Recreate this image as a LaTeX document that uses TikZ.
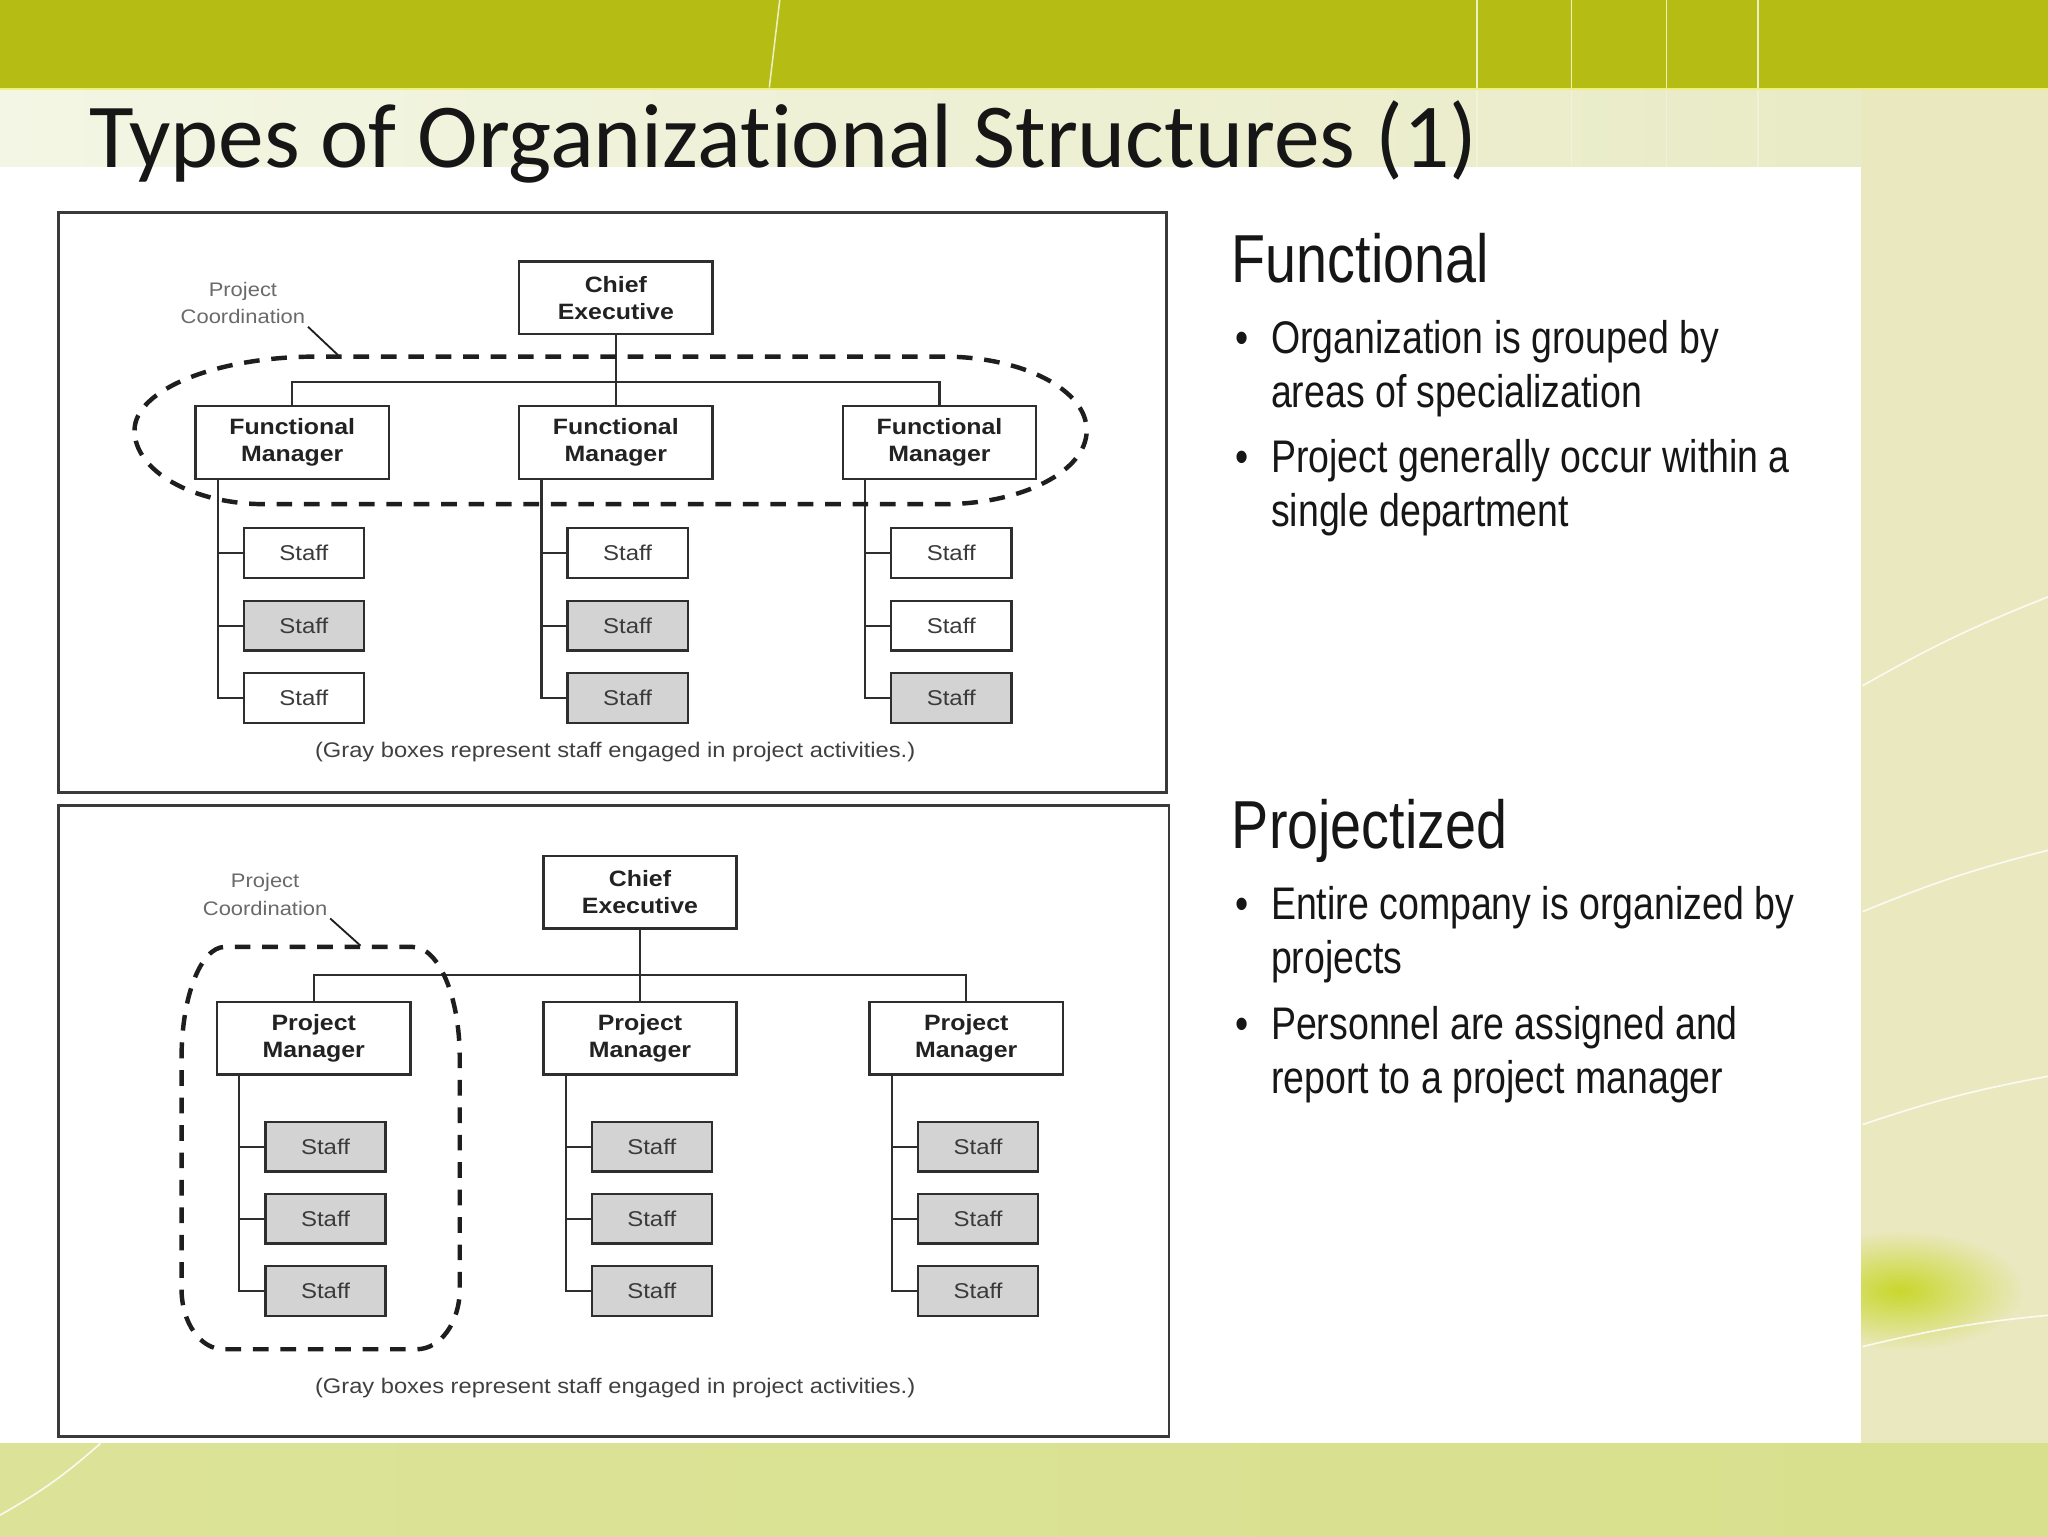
\documentclass[tikz,border=0pt]{standalone}
\usepackage{fontspec}
\setmainfont{Liberation Sans}
\newfontfamily\titlefont{Carlito}[Ligatures=NoCommon]
\newfontfamily\narrowfont{Liberation Sans}[FakeStretch=0.82]
\newfontfamily\chartfont{Liberation Sans}[FakeStretch=1.12]
\usetikzlibrary{positioning, calc}

\definecolor{bandgreen}{HTML}{B5BC13}
\definecolor{bandlight}{HTML}{EEF27A}
\definecolor{titleleft}{HTML}{F3F6E4}
\definecolor{titleright}{HTML}{E9EBC6}
\definecolor{margin}{HTML}{E9E8BF}
\definecolor{floorgreen}{HTML}{D8E08D}
\definecolor{blobgreen}{HTML}{C9D72C}
\definecolor{ink}{HTML}{161616}
\definecolor{boxline}{HTML}{2E2E2E}
\definecolor{boxtext}{HTML}{222222}
\definecolor{stafftext}{HTML}{3A3A3A}
\definecolor{busygray}{HTML}{D3D3D3}
\definecolor{dashink}{HTML}{1E1E1E}
\definecolor{notegray}{HTML}{6A6A6A}
\definecolor{capgray}{HTML}{404040}
\definecolor{framegray}{HTML}{3A3A3A}

\begin{document}
\begin{tikzpicture}[
  x=1pt, y=1pt,
  mgr/.style={draw=boxline, line width=1.8pt, fill=white, minimum width=148pt, minimum height=55.5pt, inner sep=0pt, align=center, text=boxtext, font=\chartfont\bfseries\fontsize{17}{20.5}\selectfont},
  staff/.style={draw=boxline, line width=1.8pt, fill=white, minimum width=92pt, minimum height=38pt, inner sep=0pt, text=stafftext, font=\chartfont\fontsize{16.4}{19}\selectfont},
  busy/.style={staff, fill=busygray},
  link/.style={draw=boxline, line width=1.6pt},
  coord/.style={draw=dashink, line width=3.4pt, dash pattern=on 12pt off 9pt},
  leader/.style={draw=dashink, line width=1.4pt},
  note/.style={align=center, inner sep=2pt, text=notegray, font=\chartfont\fontsize{15}{21}\selectfont},
  caption/.style={inner sep=0pt, text=capgray, font=\chartfont\fontsize{16.2}{19}\selectfont},
  frame/.style={draw=framegray, line width=2.2pt},
  head/.style={anchor=base west, inner sep=0pt, text=ink, font=\narrowfont\fontsize{52}{60}\selectfont},
  point/.style={anchor=base west, inner sep=0pt, text=ink, font=\narrowfont\fontsize{35}{42}\selectfont}
]
\useasboundingbox (0,0) rectangle (1568,-1176);

% slide background
\fill[margin] (0,0) rectangle (1568,-1176);
\shade[inner color=blobgreen, outer color=margin] (1455,-988) ellipse [x radius=95pt, y radius=46pt];
\shade[left color=floorgreen!90!white, right color=floorgreen] (0,-1105) rectangle (1568,-1176);
\fill[bandgreen] (0,0) rectangle (1568,-68);
\draw[bandlight, line width=2pt] (0,-68) -- (1568,-68);
\shade[left color=titleleft, right color=titleright] (0,-69) rectangle (1425,-128);
\foreach \lx in {1131,1203,1276,1346} {
  \draw[white, line width=1.2pt, opacity=.75] (\lx,0) -- (\lx,-67);
  \draw[white, line width=1.2pt, opacity=.3] (\lx,-69) -- (\lx,-128);
}
\draw[white, line width=1.2pt, opacity=.75] (597,0) -- (589,-67);
\fill[white] (0,-128) rectangle (1425,-1105);
\foreach \ya/\yb in {525/457, 698/651, 861/824, 1031/1007}
  \draw[white, line width=1.3pt, opacity=.8] (1426,-\ya) to[bend left=4] (1568,-\yb);
\draw[white, line width=1.3pt, opacity=.8] (77,-1105) to[bend left=6] (0,-1160);

% title
\node[anchor=base west, inner sep=0pt, text=ink, font=\titlefont\fontsize{70}{82}\selectfont] (title) at (68,-128) {Types of Organizational Structures (1)};

% functional chart
\draw[frame] (45,-163) rectangle (893,-607);
\node[mgr] (ce1) at (471.5,-228) {Chief\\Executive};
\node[mgr, below=53.5pt of ce1] (fm2) {Functional\\Manager};
\node[mgr, left=98pt of fm2] (fm1) {Functional\\Manager};
\node[mgr, right=98pt of fm2] (fm3) {Functional\\Manager};
\coordinate (bar1) at ($(fm2.north)+(0,18)$);
\draw[link] (ce1) -- (fm2);
\draw[link] (fm1.north) |- (bar1) -| (fm3.north);
\foreach \m/\sa/\sb/\sc in {1/staff/busy/staff, 2/staff/busy/busy, 3/staff/staff/busy} {
  \node[\sa] (fs\m-a) at ($(fm\m.south)+(9,-56)$) {Staff};
  \node[\sb] (fs\m-b) at ($(fm\m.south)+(9,-111.5)$) {Staff};
  \node[\sc] (fs\m-c) at ($(fm\m.south)+(9,-167)$) {Staff};
  \foreach \r in {a,b,c}
    \draw[link] ([xshift=18pt]fm\m.south west) |- (fs\m-\r.west);
}
\draw[coord] (103,-329.5) arc[start angle=180, end angle=90, x radius=140pt, y radius=56.5pt]
  -- (722,-273) arc[start angle=90, end angle=0, x radius=110pt, y radius=56.5pt]
  arc[start angle=0, end angle=-90, x radius=110pt, y radius=56.5pt]
  -- (203,-386) arc[start angle=-90, end angle=-180, x radius=100pt, y radius=56.5pt];
\node[note] (pc1) at (186,-232) {Project\\Coordination};
\coordinate (tip1) at (260,-273);
\draw[leader] (pc1.south east) -- (tip1);
\node[caption] (cap1) at (471,-576) {(Gray boxes represent staff engaged in project activities.)};

% projectized chart
\draw[frame] (45,-617) rectangle (895,-1100);
\node[mgr] (ce2) at (490,-683) {Chief\\Executive};
\node[mgr, below=54.5pt of ce2] (pm2) {Project\\Manager};
\node[mgr, left=100pt of pm2] (pm1) {Project\\Manager};
\node[mgr, right=100pt of pm2] (pm3) {Project\\Manager};
\coordinate (bar2) at ($(pm2.north)+(0,20)$);
\draw[link] (ce2) -- (pm2);
\draw[link] (pm1.north) |- (bar2) -| (pm3.north);
\foreach \m in {1,2,3} {
  \node[busy] (ps\m-a) at ($(pm\m.south)+(9,-54.5)$) {Staff};
  \node[busy] (ps\m-b) at ($(pm\m.south)+(9,-109.5)$) {Staff};
  \node[busy] (ps\m-c) at ($(pm\m.south)+(9,-165)$) {Staff};
  \foreach \r in {a,b,c}
    \draw[link] ([xshift=18pt]pm\m.south west) |- (ps\m-\r.west);
}
\draw[coord] (139,-810) arc[start angle=180, end angle=90, x radius=33pt, y radius=85pt]
  -- (316,-725) arc[start angle=90, end angle=0, x radius=36pt, y radius=85pt]
  -- (352,-987) arc[start angle=0, end angle=-90, x radius=33pt, y radius=46pt]
  -- (171,-1033) arc[start angle=-90, end angle=-180, x radius=32pt, y radius=46pt] -- cycle;
\node[note] (pc2) at (203,-685) {Project\\Coordination};
\coordinate (tip2) at (276,-724);
\draw[leader] (pc2.south east) -- (tip2);
\node[caption] (cap2) at (471,-1063) {(Gray boxes represent staff engaged in project activities.)};

% right-hand text
\node[head] (h1) at (943,-216) {Functional};
\node[point] (b1) at (946,-271) {•};
\node[point] (t1) at (973,-271) {Organization is grouped by};
\node[point] (t2) at (973,-312) {areas of specialization};
\node[point] (b2) at (946,-362) {•};
\node[point] (t3) at (973,-362) {Project generally occur within a};
\node[point] (t4) at (973,-403) {single department};
\node[head] (h2) at (943,-650) {Projectized};
\node[point] (b3) at (946,-704) {•};
\node[point] (t5) at (973,-704) {Entire company is organized by};
\node[point] (t6) at (973,-745) {projects};
\node[point] (b4) at (946,-796) {•};
\node[point] (t7) at (973,-796) {Personnel are assigned and};
\node[point] (t8) at (973,-837) {report to a project manager};
\end{tikzpicture}
\end{document}
